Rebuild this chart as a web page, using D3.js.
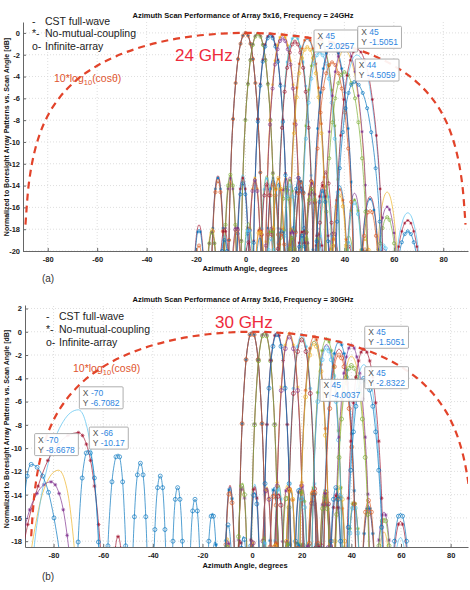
<!DOCTYPE html>
<html>
<head>
<meta charset="utf-8">
<script src="https://cdn.jsdelivr.net/npm/d3@7"></script>
<style>
  body { margin: 0; background: #fff; }
  svg { display: block; }
</style>
</head>
<body>
<div id="chart"></div>
<script>
// Azimuth scan performance, array 5x16, 24 GHz (a) and 30 GHz (b)

const colorOrder = ['#0072BD', '#D95319', '#EDB120', '#7E2F8E', '#77AC30', '#4DBEEE', '#A2142F'];
const scanAngles = [0, 5, 10, 15, 20, 25, 30, 35, 40, 45];
const legendItems = [['-', 'CST full-wave'], ['*-', 'No-mutual-coupling'], ['o-', 'Infinite-array']];
const modelMarks = ['', '*', 'o'];
const xTicks = [-80, -60, -40, -20, 0, 20, 40, 60, 80];

// shape of one lobe: [fraction of the way to the null, dB below the lobe peak]
const lobeShape = [[0, 0], [0.14, -0.25], [0.27, -1.0], [0.41, -2.4], [0.54, -4.6], [0.68, -7.9],
  [0.81, -12.8], [0.9, -19], [0.96, -28], [1, -45]];

// 10*log10(cos(theta)) dashed reference, read at these angles
const cosAngles = [-89, -88, -87, -86, -85, -83, -80, -75, -70, -60, -50, -40, -30, -20, -10, 0,
  10, 20, 30, 40, 50, 60, 70, 75, 80, 83, 85, 86, 87, 88, 89];
const cosValues = [-17.58, -14.57, -12.8, -11.56, -10.6, -9.14, -7.6, -5.87, -4.66, -3.01, -1.92, -1.16, -0.62, -0.27, -0.07, 0,
  -0.07, -0.27, -0.62, -1.16, -1.92, -3.01, -4.66, -5.87, -7.6, -9.14, -10.6, -11.56, -12.8, -14.57, -17.58];

// ---------- 24 GHz ----------
const peakCST24 = [0, -0.03, -0.1, -0.2, -0.37, -0.58, -0.85, -1.18, -1.58, -2.0257];
const peakNoMC24 = [0, -0.02, -0.07, -0.15, -0.27, -0.43, -0.62, -0.87, -1.16, -1.5051];
const peakInf24 = [0, -0.1, -0.25, -0.5, -0.8, -1.3, -1.8, -2.7, -3.6, -4.5059];
const peakAngInf24 = [0, 5, 10, 15, 20, 25, 30, 35, 40, 44];
// null angles around each beam: 2nd-left .. 2nd-right
const nulls24 = [
  [-22.7, -14.9, -7.4, 7.4, 14.9, 22.7],
  [-17.4, -9.8, -2.4, 12.5, 20.1, 28.2],
  [-12.2, -4.8, 2.6, 17.6, 25.5, 34.0],
  [-7.3, 0.1, 7.5, 22.8, 31.1, 40.1],
  [-2.5, 4.9, 12.3, 28.1, 36.8, 46.7],
  [2.1, 9.5, 17.1, 33.4, 42.8, 53.9],
  [6.6, 14.1, 21.8, 39.0, 49.2, 62.4],
  [10.8, 18.5, 26.4, 44.6, 56.2, 73.5],
  [14.9, 22.7, 31.0, 50.5, 64.1, 90],
  [18.8, 26.8, 35.4, 56.7, 74.6, 90]
];
// side lobe peaks [2nd left, 1st left, 1st right, 2nd right]
const sideCST24 = [
  [-17.6, -13.1, -13.5, -19.2], [-17.9, -13.6, -13.2, -18.8], [-18.6, -13.0, -13.9, -17.9],
  [-18.3, -13.7, -13.5, -19.4], [-17.4, -13.1, -14.4, -18.6], [-18.8, -13.8, -14.0, -19.9],
  [-17.8, -13.2, -14.7, -19.8], [-18.5, -14.1, -15.0, -21.0], [-17.9, -13.5, -14.6, -23],
  [-18.7, -14.4, -16.5, -25]
];
const sideNoMC24 = [
  [-18.0, -13.3, -13.3, -18.0], [-18.3, -13.3, -13.4, -18.3], [-17.95, -13.3, -13.6, -18.5],
  [-17.9, -13.3, -13.8, -18.8], [-17.9, -13.35, -14.05, -19.2], [-17.9, -13.4, -14.35, -19.7],
  [-18.0, -13.5, -15.3, -20.4], [-18.05, -13.6, -15.25, -21.6], [-18.1, -13.8, -15.95, -25],
  [-18.25, -14.0, -17.2, -25]
];
const sideInf24 = [
  [-19.5, -13.6, -13.9, -19.0], [-18.3, -13.0, -14.2, -18.0], [-19.0, -13.8, -13.3, -19.4],
  [-17.8, -13.5, -14.6, -18.2], [-19.2, -13.9, -12.8, -19.6], [-18.1, -13.3, -14.9, -18.9],
  [-18.9, -14.0, -15.6, -19.5], [-18.4, -13.7, -16.2, -21], [-18.8, -14.3, -16.9, -24],
  [-18.6, -14.5, -18.2, -25]
];
const tips24 = [[45, -2.0257], [45, -1.5051], [44, -4.5059]];
const tipPlace24 = ['nw', 'ne', 'ne'];

// ---------- 30 GHz ----------
const peakCST30 = [0, -0.05, -0.15, -0.3, -0.5, -0.8, -1.1, -1.5, -2.1, -2.8322];
const peakNoMC30 = [0, -0.02, -0.07, -0.15, -0.27, -0.43, -0.62, -0.87, -1.16, -1.5051];
const peakInf30 = [0, -0.1, -0.25, -0.45, -0.7, -1.0, -1.4, -2.0, -2.9, -4.0037];
const peakAngInf30 = [0, 5, 10, 15, 20, 25, 30, 35, 40, 45];
const nulls30 = [
  [-18.0, -11.9, -5.9, 5.9, 11.9, 18.0],
  [-12.8, -6.8, -0.9, 11.0, 17.1, 23.3],
  [-7.8, -1.9, 4.1, 16.1, 22.3, 28.9],
  [-2.9, 3.0, 9.0, 21.2, 27.7, 34.6],
  [1.9, 7.8, 13.8, 26.4, 33.2, 40.6],
  [6.5, 12.5, 18.6, 31.7, 39.0, 47.0],
  [11.0, 17.1, 23.4, 37.1, 44.9, 54.0],
  [15.3, 21.6, 28.1, 42.6, 51.2, 62.0],
  [19.5, 25.9, 32.7, 48.2, 58.1, 72.1],
  [23.6, 30.2, 37.3, 53.9, 65.7, 90]
];
const sideCST30 = [
  [-18.6, -13.2, -13.6, -19.0], [-17.7, -13.5, -13.2, -18.9], [-18.8, -13.1, -13.9, -18.1],
  [-18.2, -13.6, -13.5, -19.3], [-17.6, -13.2, -14.2, -18.4], [-18.9, -13.7, -13.9, -19.6],
  [-17.9, -13.3, -14.8, -19.2], [-18.7, -14.0, -15.2, -20.8], [-18.1, -13.6, -17.2, -24],
  [-18.9, -14.4, -17.7, -25]
];
const sideNoMC30 = [
  [-18.05, -13.35, -13.35, -18.05], [-17.96, -13.3, -13.43, -18.2], [-17.9, -13.3, -13.55, -18.35],
  [-17.9, -13.32, -13.7, -18.5], [-17.92, -13.38, -13.9, -18.8], [-17.96, -13.46, -14.2, -19.2],
  [-18.03, -13.58, -14.52, -19.8], [-18.1, -13.72, -14.95, -20.5], [-18.2, -13.9, -15.5, -25],
  [-18.4, -14.1, -16.3, -25]
];
const sideInf30 = [
  [-19.2, -13.7, -13.9, -18.8], [-18.3, -13.0, -14.1, -18.1], [-18.9, -13.8, -13.4, -19.2],
  [-17.9, -13.4, -14.5, -18.3], [-19.1, -13.9, -13.8, -19.5], [-18.2, -13.4, -13.4, -18.7],
  [-18.8, -14.1, -14.9, -19.6], [-18.4, -13.6, -14.5, -19.9], [-18.6, -14.2, -16.0, -22],
  [-18.5, -13.4, -15.6, -21]
];
// grating-lobe region lobes [left null, peak angle, peak dB, right null]
const gratingCST30_40 = [[-95, -78, -11.9, -68]];
const gratingNoMC30_40 = [[-102, -81, -12.9, -69]];
const gratingCST30_45 = [[-92.5, -70, -6.7082, -59.4]];
const gratingNoMC30_45 = [[-100, -70, -8.6678, -58], [-58, -54, -17.6, -50]];
const gratingInf30_45 = [
  [-95, -89, -11.4, -72], [-72, -66, -10.17, -60], [-60, -54, -10.5, -49.5], [-49.5, -45, -11.3, -41],
  [-41, -37, -12.4, -33.5], [-33.5, -30, -13.4, -26.5], [-26.5, -23, -14.4, -19.5],
  [-19.5, -16, -15.6, -12.8], [-12.8, -9.7, -16.6, -6.5], [-6.5, -3.5, -17.6, -0.5]
];
const tips30 = [[45, -1.5051], [45, -2.8322], [45, -4.0037], [-70, -6.7082], [-70, -8.6678], [-66, -10.17]];
const tipPlace30 = ['ne', 'se', 'sw', 'ne', 'sw', 'ne'];

const FONT = 'Liberation Sans, Arial, sans-serif';
const W = 470, H = 590;

const svg = d3.select('#chart').append('svg')
  .attr('width', W)
  .attr('height', H)
  .style('font-family', FONT);

function lobePoints(l) {
  const [lo, pa, pk, hi] = l;
  const pts = [];
  for (let i = lobeShape.length - 1; i > 0; i--) {
    pts.push([pa - lobeShape[i][0] * (pa - lo), pk + lobeShape[i][1]]);
  }
  for (let i = 0; i < lobeShape.length; i++) {
    pts.push([pa + lobeShape[i][0] * (hi - pa), pk + lobeShape[i][1]]);
  }
  return pts;
}

function beamLobes(nl, pa, pk, lv, extra) {
  const mid = (a, b) => (a + b) / 2;
  const lobes = [
    [nl[0], mid(nl[0], nl[1]), lv[0], nl[1]],
    [nl[1], mid(nl[1], nl[2]), lv[1], nl[2]],
    [nl[2], pa, pk, nl[3]],
    [nl[3], mid(nl[3], nl[4]), lv[2], nl[4]],
    [nl[4], mid(nl[4], nl[5]), lv[3], nl[5]]
  ];
  return lobes.concat(extra || []).sort((a, b) => a[0] - b[0]);
}

function seriesPoints(lobes) {
  const out = [];
  lobes.forEach(l => {
    lobePoints(l).forEach(p => {
      if (out.length && p[0] <= out[out.length - 1][0] + 1e-6) return;
      out.push(p);
    });
  });
  return out;
}

function drawPanel(p) {
  const x = d3.scaleLinear().domain(p.xDomain).range(p.xRange);
  const y = d3.scaleLinear().domain(p.yDomain).range(p.yRange);
  const g = svg.append('g');

  // grid
  g.append('g').selectAll('line.gx')
    .data(xTicks)
    .join('line')
    .attr('x1', d => x(d)).attr('x2', d => x(d))
    .attr('y1', p.yRange[0]).attr('y2', p.yRange[1])
    .attr('stroke', '#d6d6d6').attr('stroke-width', 0.8).attr('stroke-dasharray', '1,2');
  g.append('g').selectAll('line.gy')
    .data(p.yTicks)
    .join('line')
    .attr('x1', p.xRange[0]).attr('x2', p.xRange[1])
    .attr('y1', d => y(d)).attr('y2', d => y(d))
    .attr('stroke', '#d6d6d6').attr('stroke-width', 0.8).attr('stroke-dasharray', '1,2');

  // axes
  const xAxis = d3.axisBottom(x).tickValues(xTicks).tickFormat(d => String(d))
    .tickSizeInner(-3).tickSizeOuter(0).tickPadding(6);
  const yAxis = d3.axisLeft(y).tickValues(p.yTicks).tickFormat(d => String(d))
    .tickSizeInner(-3).tickSizeOuter(0).tickPadding(3);
  [g.append('g').attr('transform', `translate(0,${p.yRange[0]})`).call(xAxis),
   g.append('g').attr('transform', `translate(${p.xRange[0]},0)`).call(yAxis)].forEach(a => {
    a.select('.domain').attr('stroke', '#666');
    a.selectAll('line').attr('stroke', '#666');
    a.selectAll('text').style('font-size', '7.5px').style('font-weight', 'bold').attr('fill', '#222');
  });

  const clipId = 'clip-' + p.id;
  svg.append('clipPath').attr('id', clipId).append('rect')
    .attr('x', p.xRange[0]).attr('y', p.yRange[1])
    .attr('width', p.xRange[1] - p.xRange[0]).attr('height', p.yRange[0] - p.yRange[1]);

  const plot = g.append('g').attr('clip-path', `url(#${clipId})`);
  const line = d3.line().x(d => x(d[0])).y(d => y(d[1])).curve(d3.curveMonotoneX);
  const s = p.markScale;
  const star = `M${-2 * s},0H${2 * s}M0,${-2 * s}V${2 * s}M${-1.4 * s},${-1.4 * s}L${1.4 * s},${1.4 * s}M${-1.4 * s},${1.4 * s}L${1.4 * s},${-1.4 * s}`;

  scanAngles.forEach((ang, b) => {
    [0, 1, 2].forEach(m => {
      const color = colorOrder[(b * 3 + m + 6) % 7];
      const lobes = beamLobes(p.nulls[b], p.peakAng[m][b], p.peaks[m][b], p.sides[m][b],
        p.extras[m + '-' + b]);
      const pts = seriesPoints(lobes);
      plot.append('path')
        .datum(pts)
        .attr('d', line)
        .attr('fill', 'none')
        .attr('stroke', color)
        .attr('stroke-width', 0.85)
        .attr('stroke-opacity', 0.8);
      if (!modelMarks[m]) return;
      let last = -999;
      const marks = pts.filter(d => {
        if (d[1] < p.yDomain[0] - 0.6 || d[0] - last < 0.9) return false;
        last = d[0];
        return true;
      });
      if (modelMarks[m] === 'o') {
        plot.append('g').selectAll('circle')
          .data(marks)
          .join('circle')
          .attr('cx', d => x(d[0])).attr('cy', d => y(d[1]))
          .attr('r', 2.1 * s)
          .attr('fill', 'none').attr('stroke', color).attr('stroke-width', 0.75)
          .attr('stroke-opacity', 0.85);
      } else {
        plot.append('g').selectAll('path')
          .data(marks)
          .join('path')
          .attr('d', star)
          .attr('transform', d => `translate(${x(d[0])},${y(d[1])})`)
          .attr('stroke', color).attr('stroke-width', 0.7)
          .attr('stroke-opacity', 0.85);
      }
    });
  });

  // cos reference curve
  const cosPts = cosAngles.map((a, i) => [a, cosValues[i]]);
  plot.append('path')
    .datum(cosPts)
    .attr('d', d3.line().x(d => x(d[0])).y(d => y(d[1])).curve(d3.curveMonotoneX))
    .attr('fill', 'none')
    .attr('stroke', '#e2432a')
    .attr('stroke-width', 2.2)
    .attr('stroke-dasharray', '7,5');

  // data tips
  p.tips.forEach((t, i) => {
    const px = x(t[0]), py = y(t[1]);
    const tip = g.append('g');
    const box = tip.append('rect').attr('fill', '#fff').attr('fill-opacity', 0.92)
      .attr('stroke', '#9a9a9a').attr('stroke-width', 0.8).attr('rx', 1);
    const rows = [['X', String(t[0])], ['Y', String(t[1])]];
    let wmax = 0;
    const texts = rows.map((r, k) => {
      const tx = tip.append('text').attr('y', 9 + k * 10).style('font-size', '8.5px');
      tx.append('tspan').attr('fill', '#555').text(r[0] + ' ');
      tx.append('tspan').attr('fill', '#2f86de').text(r[1]);
      wmax = Math.max(wmax, tx.node().getComputedTextLength());
      return tx;
    });
    const bw = wmax + 7, bh = 22;
    let bx, by;
    const place = p.tipPlace[i];
    if (place === 'ne') { bx = px + 1; by = py - bh - 1; }
    else if (place === 'nw') { bx = px - bw + 1; by = py - bh - 3; }
    else if (place === 'se') { bx = px + 1; by = py + 2; }
    else { bx = px - bw; by = py + 1; }
    box.attr('width', bw).attr('height', bh);
    tip.attr('transform', `translate(${bx},${by})`);
    texts.forEach(tx => tx.attr('x', 3.5));
  });

  // title and axis labels
  svg.append('text')
    .attr('x', 243).attr('y', p.titleY)
    .attr('text-anchor', 'middle')
    .style('font-size', '7.5px').style('font-weight', 'bold').attr('fill', '#111')
    .text(p.title);
  svg.append('text')
    .attr('x', 245).attr('y', p.xLabelY)
    .attr('text-anchor', 'middle')
    .style('font-size', '7.5px').style('font-weight', 'bold').attr('fill', '#111')
    .text('Azimuth Angle, degrees');
  svg.append('text')
    .attr('transform', `translate(9,${p.yLabelY}) rotate(-90)`)
    .attr('text-anchor', 'middle')
    .style('font-size', '7px').style('font-weight', 'bold').attr('fill', '#111')
    .text('Normalized to Boresight Array Patterns vs. Scan Angle [dB]');
  svg.append('text')
    .attr('x', 48).attr('y', p.tagY)
    .attr('text-anchor', 'middle')
    .style('font-size', '10px').attr('fill', '#333')
    .text(p.tag);

  // legend
  legendItems.forEach((it, k) => {
    svg.append('text')
      .attr('x', p.legendX).attr('y', p.legendY[k])
      .style('font-size', '10.5px').attr('fill', '#222')
      .text(it[0]);
    svg.append('text')
      .attr('x', p.legendX + 13).attr('y', p.legendY[k])
      .style('font-size', '10.5px').attr('fill', '#222')
      .text(it[1]);
  });

  // frequency label
  svg.append('text')
    .attr('x', p.freqPos[0]).attr('y', p.freqPos[1])
    .style('font-size', '17px').attr('fill', '#ee2a3c')
    .text(p.freq);

  // formula label
  const f = svg.append('text')
    .attr('x', p.cosPos[0]).attr('y', p.cosPos[1])
    .style('font-size', '10.5px').attr('fill', '#e0552f');
  f.append('tspan').text('10*log');
  f.append('tspan').attr('dy', 3).style('font-size', '7.5px').text('10');
  f.append('tspan').attr('dy', -3).text('(cos\u03B8)');
}

drawPanel({
  id: 'a',
  xDomain: [-90, 90], xRange: [23, 468],
  yDomain: [-20, 1], yRange: [251, 22],
  yTicks: d3.range(-20, 1, 2),
  nulls: nulls24,
  peaks: [peakCST24, peakNoMC24, peakInf24],
  peakAng: [scanAngles, scanAngles, peakAngInf24],
  sides: [sideCST24, sideNoMC24, sideInf24],
  extras: {},
  tips: tips24, tipPlace: tipPlace24,
  markScale: 0.75,
  title: 'Azimuth Scan Performance of Array 5x16, Frequency = 24GHz',
  titleY: 18, xLabelY: 271, yLabelY: 137, tag: '(a)', tagY: 282,
  legendX: 32, legendY: [24.5, 37, 50],
  freq: '24 GHz', freqPos: [175, 61],
  cosPos: [54, 82]
});

drawPanel({
  id: 'b',
  xDomain: [-91.5, 87], xRange: [25, 468],
  yDomain: [-18.5, 2.3], yRange: [547, 305],
  yTicks: d3.range(-18, 3, 2),
  nulls: nulls30,
  peaks: [peakCST30, peakNoMC30, peakInf30],
  peakAng: [scanAngles, scanAngles, peakAngInf30],
  sides: [sideCST30, sideNoMC30, sideInf30],
  extras: {
    '0-8': gratingCST30_40, '1-8': gratingNoMC30_40,
    '0-9': gratingCST30_45, '1-9': gratingNoMC30_45, '2-9': gratingInf30_45
  },
  tips: tips30, tipPlace: tipPlace30,
  markScale: 0.95,
  title: 'Azimuth Scan Performance of Array 5x16, Frequency = 30GHz',
  titleY: 301.5, xLabelY: 568, yLabelY: 429, tag: '(b)', tagY: 580,
  legendX: 46, legendY: [319.5, 332.5, 345.5],
  freq: '30 GHz', freqPos: [215, 328],
  cosPos: [73, 372]
});
</script>
</body>
</html>
